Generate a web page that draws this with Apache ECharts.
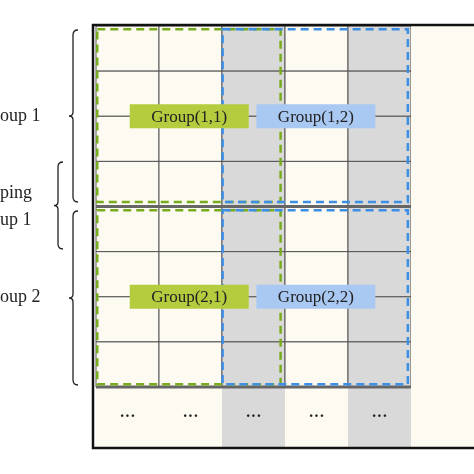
<!DOCTYPE html><html><head><meta charset="utf-8">
<script src="https://cdn.jsdelivr.net/npm/echarts@6/dist/echarts.min.js"></script>
<style>html,body{margin:0;padding:0;background:#fff}#c{width:474px;height:474px}</style></head><body><div id="c"></div>
<script>
const colCount = 6, rowCount = 8;
const grayCols = [2, 4];
const groupLabels = ['Group(1,1)', 'Group(1,2)', 'Group(2,1)', 'Group(2,2)'];
const labelX = [1.48, 3.49, 1.48, 3.49];
const labelY = [2, 2, 6, 6];
const labelColors = ['#b5cc3e', '#a9c9f2'];
const dashRects = [[0.02,0.07,2.93,3.9,0],[2.01,0.07,4.95,3.9,1],[0.02,4.08,2.93,7.94,0],[2.01,4.08,4.95,7.94,1]];
const dashColors = ['#78ac1e', '#3d8fe6'];
const leftTexts = ['oup 1', 'ping', 'up 1', 'oup 2'];

const cells = [];
for (let c = 0; c < colCount; c++) {
  for (let r = 0; r < rowCount; r++) cells.push([c, r, c + 1, r + 1, grayCols.includes(c) ? 1 : 0, c < 5 ? 1 : 0]);
  cells.push([c, 8, c + 1, 9.35, grayCols.includes(c) ? 1 : 0, 0]);
}
const labels = groupLabels.map((t, i) => [labelX[i], labelY[i], t, i % 2]);
const dots = [0,1,2,3,4].map(c => [c + 0.5, 8.67]);

function brace(x, y0, y1) {
  const m = (y0 + y1) / 2, a = x + 5, b = x, t = x - 4;
  return `M${a},${y0} Q${b},${y0} ${b},${y0+5} L${b},${m-4} Q${b},${m} ${t},${m} Q${b},${m} ${b},${m+4} L${b},${y1-5} Q${b},${y1} ${a},${y1}`;
}
const braces = [[73, 30, 202], [73, 211, 385], [58, 162, 249]];
const chart = echarts.init(document.getElementById('c'));
chart.setOption({
  animation: false,
  grid: {left: 96, top: 26, width: 441, height: 422},
  xAxis: {type: 'value', min: 0, max: 6, show: false},
  yAxis: {type: 'value', min: 0, max: 9.35, inverse: true, show: false},
  series: [
    {type: 'custom', data: cells, clip: false, renderItem: (p, api) => {
      const a = api.coord([api.value(0), api.value(1)]), b = api.coord([api.value(2), api.value(3)]);
      return {type: 'rect', shape: {x: a[0], y: a[1], width: b[0]-a[0], height: b[1]-a[1]},
        style: {fill: api.value(4) ? '#d9d9d9' : '#fdfbf1', stroke: api.value(5) ? '#555' : null, lineWidth: 1}};
    }},
    {type: 'custom', data: [[0, 4], [0, 8]], clip: false, renderItem: (p, api) => {
      const a = api.coord([0, api.value(1)]), b = api.coord([5, api.value(1)]);
      return {type: 'line', shape: {x1: a[0], y1: a[1], x2: b[0], y2: b[1]}, style: {stroke: '#666', lineWidth: 3}};
    }},
    {type: 'custom', data: dashRects, clip: false, renderItem: (p, api) => {
      const a = api.coord([api.value(0), api.value(1)]), b = api.coord([api.value(2), api.value(3)]);
      return {type: 'rect', shape: {x: a[0], y: a[1], width: b[0]-a[0], height: b[1]-a[1]},
        style: {fill: null, stroke: dashColors[api.value(4)], lineWidth: 2.5, lineDash: [8, 5]}};
    }},
    {type: 'custom', data: labels, clip: false, renderItem: (p, api) => {
      const a = api.coord([api.value(0), api.value(1)]);
      return {type: 'group', children: [
        {type: 'rect', shape: {x: a[0]-59.5, y: a[1]-12, width: 119, height: 24}, style: {fill: labelColors[api.value(3)]}},
        {type: 'text', style: {x: a[0], y: a[1]+1, text: api.value(2), align: 'center', verticalAlign: 'middle',
          font: '17px "Liberation Serif"', fill: '#222'}}]};
    }},
    {type: 'custom', data: dots, clip: false, renderItem: (p, api) => {
      const a = api.coord([api.value(0), api.value(1)]);
      return {type: 'text', style: {x: a[0], y: a[1], text: '···', align: 'center', verticalAlign: 'middle', font: 'bold 16px "Liberation Serif"', fill: '#222'}};
    }},
    {type: 'custom', data: braces, clip: false, renderItem: (p, api) => {
      return {type: 'path', shape: {pathData: brace(api.value(0), api.value(1), api.value(2))},
        style: {fill: null, stroke: '#222', lineWidth: 1.3}};
    }}
  ],
  graphic: [
    {type: 'rect', shape: {x: 93, y: 25, width: 420, height: 423}, style: {fill: null, stroke: '#111', lineWidth: 2.5}, z: 100},
    {type: 'text', style: {x: 0, y: 116, text: leftTexts[0], verticalAlign: 'middle', font: '18px "Liberation Serif"', fill: '#222'}},
    {type: 'text', style: {x: 0, y: 193, text: leftTexts[1], verticalAlign: 'middle', font: '18px "Liberation Serif"', fill: '#222'}},
    {type: 'text', style: {x: 0, y: 220, text: leftTexts[2], verticalAlign: 'middle', font: '18px "Liberation Serif"', fill: '#222'}},
    {type: 'text', style: {x: 0, y: 297, text: leftTexts[3], verticalAlign: 'middle', font: '18px "Liberation Serif"', fill: '#222'}}
  ]
});
</script></body></html>
